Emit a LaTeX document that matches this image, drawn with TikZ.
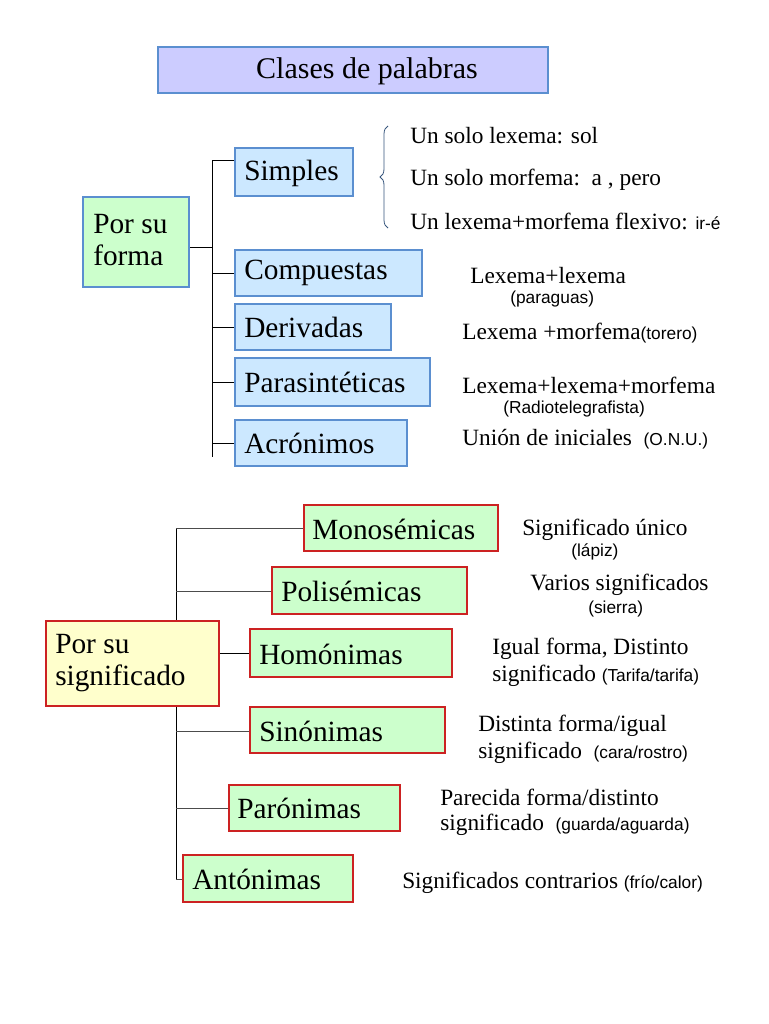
\documentclass[tikz,border=0pt]{standalone}
\usepackage{fontspec}
\setmainfont{Liberation Serif}
\setsansfont{Liberation Sans}
\usetikzlibrary{decorations.pathreplacing}
\definecolor{lav}{HTML}{CCCCFF}
\definecolor{lblue}{HTML}{CCE8FF}
\definecolor{lgreen}{HTML}{CCFFCC}
\definecolor{lyel}{HTML}{FFFFCC}
\definecolor{bblue}{HTML}{5B8FD0}
\definecolor{bred}{HTML}{CC2222}
\begin{document}
\begin{tikzpicture}[x=0.75pt,y=-0.75pt,
  lbl/.style={font=\fontsize{22}{24}\selectfont,anchor=west,inner sep=0pt},
  bbox/.style={draw=bblue,fill=lblue,line width=0.8pt},
  rbox/.style={draw=bred,fill=lgreen,line width=0.8pt},
  ex/.style={font=\fontsize{17.5}{19}\selectfont,anchor=west,inner sep=0pt},
  sm/.style={font=\sffamily\fontsize{13}{15}\selectfont},
  ln/.style={line width=0.6pt}]
\newcommand\ssm[1]{{\sffamily\fontsize{13}{15}\selectfont #1}}
\useasboundingbox (0,0) rectangle (768,1024);
% title
\draw[draw=bblue,fill=lav,line width=0.8pt] (158,47) rectangle (548,93);
\node[font=\fontsize{22.5}{24}\selectfont] (title) at (367,71) {Clases de palabras};
% top tree
\draw[ln] (189,247) -- (212,247);
\draw[ln] (212,160) -- (212,457);
\foreach \y in {160,273,327,382,443}{\draw[ln] (212,\y) -- (235,\y);}
\draw[draw=bblue,fill=lgreen,line width=0.8pt] (83,197) rectangle (189,287);
\node[lbl,align=left,anchor=north west] (forma) at (93,214) {Por su\\forma};
\draw[bbox] (235,148) rectangle (353,196); \node[lbl] (s1) at (244,173) {Simples};
\draw[bbox] (235,250) rectangle (422,296); \node[lbl] (s2) at (244,273) {Compuestas};
\draw[bbox] (235,304) rectangle (391,350); \node[lbl] (s3) at (244,327) {Derivadas};
\draw[bbox] (235,358) rectangle (430,406); \node[lbl] (s4) at (244,382) {Parasintéticas};
\draw[bbox] (235,420) rectangle (407,466); \node[lbl] (s5) at (244,443) {Acrónimos};
\draw[bblue!60!black,line width=0.6pt,decorate,decoration={brace,amplitude=6pt}] (388,228) -- (388,126);
\node[ex] at (410,136) {Un solo lexema: sol};
\node[ex] at (410,180) {Un solo morfema:\ \ a , pero};
\node[ex] at (410,221) {Un lexema+morfema flexivo: \ssm{ir-é}};
\node[ex] at (470,276) {Lexema+lexema};
\node[ex,sm] at (510,299) {(paraguas)};
\node[ex] at (462,333) {Lexema +morfema\ssm{(torero)}};
\node[ex] at (462,385) {Lexema+lexema+morfema};
\node[ex,sm] at (503,409) {(Radiotelegrafista)};
\node[ex] at (462,439) {Unión de iniciales\ \ \ssm{(O.N.U.)}};
% bottom tree
\draw[ln] (176,528) -- (176,880);
\foreach \y/\x in {528/304,591/272,731/250,808/229,879/183}{\draw[ln,black!70] (176,\y) -- (\x,\y);}
\draw[ln] (219,653) -- (250,653);
\draw[draw=bred,fill=lyel,line width=0.8pt] (46,621) rectangle (219,706);
\node[lbl,align=left,anchor=north west] (sig) at (55,634) {Por su\\significado};
\draw[rbox] (304,505) rectangle (498,551); \node[lbl] at (312,529) {Monosémicas};
\draw[rbox] (272,567) rectangle (467,614); \node[lbl] at (281,591) {Polisémicas};
\draw[rbox] (250,629) rectangle (452,677); \node[lbl] at (259,654) {Homónimas};
\draw[rbox] (250,707) rectangle (445,753); \node[lbl] at (259,731) {Sinónimas};
\draw[rbox] (229,785) rectangle (400,831); \node[lbl] at (237,808) {Parónimas};
\draw[rbox] (183,855) rectangle (353,902); \node[lbl] at (192,879) {Antónimas};
\node[ex] at (522,530) {Significado único};
\node[ex,sm] at (571,552) {(lápiz)};
\node[ex] at (530,585) {Varios significados};
\node[ex,sm] at (588,609) {(sierra)};
\node[ex] at (492,649) {Igual forma, Distinto};
\node[ex] at (492,676) {significado \ssm{(Tarifa/tarifa)}};
\node[ex] at (478,726) {Distinta forma/igual};
\node[ex] at (478,753) {significado\ \ \ssm{(cara/rostro)}};
\node[ex] at (440,797) {Parecida forma/distinto};
\node[ex] at (440,825) {significado\ \ \ssm{(guarda/aguarda)}};
\node[ex] at (402,883) {Significados contrarios \ssm{(frío/calor)}};
\end{tikzpicture}
\end{document}
